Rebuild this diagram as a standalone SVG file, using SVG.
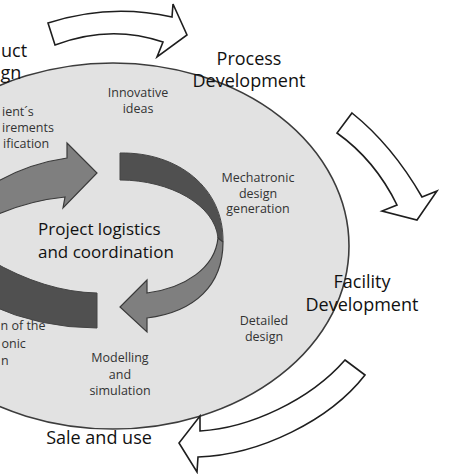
<svg xmlns="http://www.w3.org/2000/svg" width="474" height="474" viewBox="0 0 474 474">
<style>
.big{font-family:"Open Sans","Liberation Sans",sans-serif;font-size:18px;fill:#111;}
.mid{font-family:"Open Sans","Liberation Sans",sans-serif;font-size:17px;fill:#111;}
.sm{font-family:"Open Sans","Liberation Sans",sans-serif;font-size:12.5px;fill:#333;}
.hollow{fill:#fff;stroke:#1e1e1e;stroke-width:1.6;stroke-linejoin:miter;}
.gray{fill:#7f7f7f;stroke:#3a3a3a;stroke-width:1.2;}
.dark{fill:#505050;stroke:#444;stroke-width:1;}
</style>
<rect width="474" height="474" fill="#fff"/>
<g id="cycle">
<ellipse cx="113" cy="246" rx="236" ry="183" fill="#e2e2e2" stroke="#3c3c3c" stroke-width="1.6"/>
</g>
<g id="connectors">
<path class="hollow" d="M48,23 Q110,3 172,17 L173,4 L187,35 L157,57 L163,42 Q110,24 55,45 Z"/>
<path class="hollow" d="M352,113 Q392,145 422,197 L437,191 L417,220 L382,211 L397,205 Q375,160 337,133 Z"/>
<path class="hollow" d="M345,360 L365,375 C330,420 260,455 198,457 L197,472 L179,443 L200,416 L200,431 C250,428 310,400 345,360 Z"/>
<path class="dark" d="M120,153 C178,152 224,188 223,242 L218,238 C215,205 170,180 120,180 Z"/>
<path class="gray" d="M218,238 L223,242 C223,285 195,312 147,318 L147,332 L120,307 L147,280 L147,293 C185,288 215,268 218,238 Z"/>
<path class="dark" d="M97,293 Q45,292 -10,260 L-10,305 Q40,328 97,328 Z"/>
<path class="gray" d="M-10,186 Q25,164 67,158 L67,143 L97,173 L63,208 L65,197 Q25,201 -10,218 Z"/>
</g>
<g id="product-design">
<text class="big" x="1" y="57">uct</text>
<text class="big" x="0.5" y="79">gn</text>
</g>
<g id="process-development">
<text class="big" x="249" y="65" text-anchor="middle">Process</text>
<text class="big" x="249" y="87" text-anchor="middle">Development</text>
</g>
<g id="facility-development">
<text class="big" x="362" y="288" text-anchor="middle">Facility</text>
<text class="big" x="362" y="310.5" text-anchor="middle">Development</text>
</g>
<g id="sale-and-use">
<text class="big" x="99" y="444" text-anchor="middle">Sale and use</text>
</g>
<g id="project-logistics">
<text class="mid" x="38" y="235">Project logistics</text>
<text class="mid" x="38" y="258">and coordination</text>
</g>
<g id="innovative-ideas">
<text class="sm" x="138" y="97" text-anchor="middle">Innovative</text>
<text class="sm" x="138" y="113" text-anchor="middle">ideas</text>
</g>
<g id="requirements">
<text class="sm" x="2" y="116">ient´s</text>
<text class="sm" x="2" y="132">irements</text>
<text class="sm" x="3" y="148">ification</text>
</g>
<g id="mechatronic-design">
<text class="sm" x="258" y="182" text-anchor="middle">Mechatronic</text>
<text class="sm" x="258" y="197.5" text-anchor="middle">design</text>
<text class="sm" x="258" y="213" text-anchor="middle">generation</text>
</g>
<g id="detailed-design">
<text class="sm" x="264" y="325" text-anchor="middle">Detailed</text>
<text class="sm" x="264" y="341" text-anchor="middle">design</text>
</g>
<g id="modelling">
<text class="sm" x="120" y="362" text-anchor="middle">Modelling</text>
<text class="sm" x="120" y="379" text-anchor="middle">and</text>
<text class="sm" x="120" y="395" text-anchor="middle">simulation</text>
</g>
<g id="mechatronic-system">
<text class="sm" x="0.5" y="330">n of the</text>
<text class="sm" x="1.5" y="348">onic</text>
<text class="sm" x="1" y="365">n</text>
</g>
</svg>
